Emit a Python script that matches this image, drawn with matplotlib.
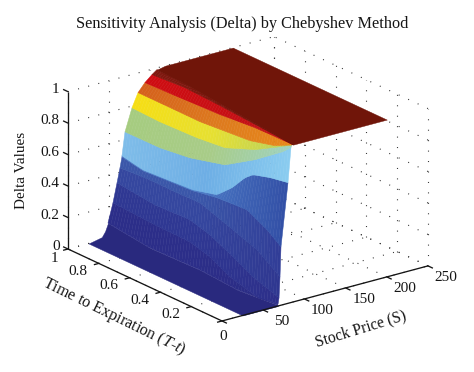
import numpy as np
import matplotlib
matplotlib.use("Agg")
import matplotlib.pyplot as plt
from matplotlib.colors import to_rgb
from mpl_toolkits.mplot3d import proj3d
from mpl_toolkits.mplot3d.art3d import Poly3DCollection

plt.rcParams['font.family'] = ['Liberation Serif', 'DejaVu Serif']
plt.rcParams['mathtext.fontset'] = 'custom'
plt.rcParams['mathtext.rm'] = 'Liberation Serif'
plt.rcParams['mathtext.it'] = 'Liberation Serif:italic'

TITLE = 'Sensitivity Analysis (Delta) by Chebyshev Method'
XLABEL = 'Stock Price (S)'
YLABEL = r'Time to Expiration ($\mathit{T}$-$\mathit{t}$)'
ZLABEL = 'Delta Values'
S_TICKS = [50, 100, 150, 200, 250]
T_TICKS = [0, 0.2, 0.4, 0.6, 0.8, 1]
Z_TICKS = [0, 0.2, 0.4, 0.6, 0.8, 1]

# Iso-colour boundaries of the surface: time, stock price, delta
a_T = [1, .753, .459, .235, 0]
a_S = [48.5, 53.4, 59.1, 63.3, 67.4]
a_Z = [.097, .045, .032, 0, .008]

b_T = [1, .745, .533, .412, .291, .121, 0]
b_S = [54.6, 57.9, 60.8, 62.4, 64.1, 66.3, 68]
b_Z = [.217, .189, .173, .131, .057, 0, .013]

c_T = [1, .765, .549, .426, .284, .160, 0]
c_S = [59.5, 61.7, 63.7, 65, 66.4, 67.5, 69.2]
c_Z = [.337, .301, .303, .261, .185, .112, .05]

d_T = [1, .8125, .656, .5, .294, .144, 0]
d_S = [63.1, 64.4, 65.5, 66.7, 68.3, 69.4, 70.4]
d_Z = [.427, .435, .429, .429, .349, .289, .182]

e_T = [1, .868, .553, .403, .214, .088, 0]
e_S = [65.5, 66.4, 68.2, 69.3, 70.4, 71.1, 71.6]
e_Z = [.494, .464, .479, .502, .510, .44, .371]

l_T = [1, .873, .572, .428, .337, .259, .211, .108, 0]
l_S = [65.5, 67.2, 71.7, 73.9, 75.1, 76.3, 77.1, 78.4, 80.1]
l_Z = [.501, .467, .471, .503, .587, .685, .725, .752, .767]

f_T = [1, .789, .608, .398, .217, .048, 0]
f_S = [69.2, 72.2, 74.8, 78, 80.6, 83, 83.7]
f_Z = [.648, .639, .654, .701, .813, .938, .985]

g_T = [1, .825, .594, .419, .231, .075, 0]
g_S = [77.7, 78.9, 80.7, 81.9, 83.3, 84.5, 85]
g_Z = [.789, .778, .780, .795, .867, .955, 1.0]

h_T = [1, .792, .597, .273, .110, 0]
h_S = [85, 85, 84.8, 85, 84.8, 85]
h_Z = [.875, .875, .875, .902, .945, 1.0]

i_T = [1, .764, .493, .257, 0]
i_S = [93.4, 91.9, 89.7, 88.1, 86.2]
i_Z = [.927, .941, .961, .988, 1.0]

j_T = [1, .766, .518, .270, 0]
j_S = [102, 98.3, 94.4, 90.5, 86.2]
j_Z = [.966, .995, 1.0, 1.0, 1.0]

k_T = [1, .757, .5, .257, 0]
k_S = [108, 102.7, 97, 91.7, 86.2]
k_Z = [.989, 1.0, 1.0, 1.0, 1.0]

S_MIN = 25
S_MAX = 200
S_FOOT_T0 = 68

BOUNDARIES = [(a_T, a_S, a_Z), (b_T, b_S, b_Z), (c_T, c_S, c_Z), (d_T, d_S, d_Z),
              (e_T, e_S, e_Z), (l_T, l_S, l_Z), (f_T, f_S, f_Z), (g_T, g_S, g_Z),
              (h_T, h_S, h_Z), (i_T, i_S, i_Z), (j_T, j_S, j_Z), (k_T, k_S, k_Z)]
# colour of each ribbon at T=1, T=0.5 and T=0
BAND_COLORS = [('#2c2e89', '#2c2e89', '#2b2c84'),
               ('#2f3893', '#2f3893', '#2d2f8a'),
               ('#35479f', '#35479f', '#2f3790'),
               ('#3b57a9', '#3b57a9', '#313d97'),
               ('#4b79c4', '#4a78c4', '#3350a6'),
               ('#7fbde9', '#6eaee5', '#8accf0'),
               ('#a6cc80', '#a8cc88', '#9fd2c0'),
               ('#f6de14', '#e6e032', '#b4cf64'),
               ('#d5601c', '#dd7a1e', '#e8891a'),
               ('#cf0c12', '#c80f14', '#bc1418'),
               ('#7f180f', '#7c170e', '#74160d')]
NAVY = '#29297e'
TOP = '#701509'

fig = plt.figure(figsize=(4.74, 3.72), dpi=100)
ax = fig.add_axes([0, 0, 1, 1], projection='3d', proj_type='ortho', computed_zorder=False)
ax.set_box_aspect((258, 255, 168))
ax.view_init(elev=20.7, azim=-127.1)
ax.set_axis_off()
ax.patch.set_alpha(0)
ax.set_xlim(0, 250)
ax.set_ylim(0, 1)
ax.set_zlim(0, 1)

W, H = 474, 372


def px(x, y, z):
    X, Y, _ = proj3d.proj_transform(x, y, z, ax.get_proj())
    return ax.transData.transform((X, Y))


# fit the box to the reference: corner (0,1,0) at (68,249), corner (250,0,0) at (428,266)
L = 372.0
ax.set_position([0, 0, L / W, L / H])
ax.apply_aspect()
span = px(250, 0, 0)[0] - px(0, 1, 0)[0]
L *= (428 - 68) / span
ax.set_position([0, 0, L / W, L / H])
ax.apply_aspect()
p = px(0, 1, 0)
dx, dy = 68 - p[0], (H - 249) - p[1]
ax.set_position([dx / W, dy / H, L / W, L / H])
ax.apply_aspect()

# dotted grid on the floor and back walls
grid = dict(color='#303030', lw=0.8, ls=(0, (0.9, 8.5)), zorder=1)
S_GRID = [0] + S_TICKS
for s in S_GRID:
    ax.plot([s, s], [0, 1], [0, 0], **grid)
    ax.plot([s, s], [1, 1], [0, 1], **grid)
for t in T_TICKS:
    ax.plot([0, 250], [t, t], [0, 0], **grid)
    ax.plot([250, 250], [t, t], [0, 1], **grid)
for z in Z_TICKS:
    ax.plot([0, 250], [1, 1], [z, z], **grid)
    ax.plot([250, 250], [0, 1], [z, z], **grid)

# surface
foot = [(S_MIN, 1, 0), (S_MIN, 0, 0), (S_FOOT_T0, 0, 0)]
foot += [(s, t, z) for t, s, z in zip(a_T[::-1], a_S[::-1], a_Z[::-1])]
foot += [(45, 1, .05), (41, 1, .018)]
ax.add_collection3d(Poly3DCollection([foot], facecolors=NAVY, edgecolors=NAVY, lw=.3,
                                     zorder=2), autolim=False)

tg = np.linspace(0, 1, 61)
for n, (lo, up) in enumerate(zip(BOUNDARIES[:-1], BOUNDARIES[1:])):
    sl = np.interp(tg, lo[0][::-1], lo[1][::-1])
    zl = np.interp(tg, lo[0][::-1], lo[2][::-1])
    su = np.interp(tg, up[0][::-1], up[1][::-1])
    zu = np.interp(tg, up[0][::-1], up[2][::-1])
    stops = np.array([to_rgb(c) for c in BAND_COLORS[n]])
    quads, cols = [], []
    for k in range(len(tg) - 1):
        quads.append([(sl[k], tg[k], zl[k]), (sl[k + 1], tg[k + 1], zl[k + 1]),
                      (su[k + 1], tg[k + 1], zu[k + 1]), (su[k], tg[k], zu[k])])
        tm = (tg[k] + tg[k + 1]) / 2
        cols.append(tuple(np.interp(tm, [0, .5, 1], stops[::-1, ch]) for ch in range(3)))
    ax.add_collection3d(Poly3DCollection(quads, facecolors=cols, edgecolors=cols, lw=.35,
                                         zorder=2 + n * .01), autolim=False)

plateau = [(s, t, z) for t, s, z in zip(k_T[::-1], k_S[::-1], k_Z[::-1])]
plateau += [(117.7, 1, 1), (S_MAX, 1, 1), (S_MAX, 0, 1)]
ax.add_collection3d(Poly3DCollection([plateau], facecolors=TOP, edgecolors=TOP, lw=.3,
                                     zorder=2.5), autolim=False)

# axis lines and ticks
axl = dict(color='#151515', lw=0.95, zorder=3, solid_capstyle='butt')
ax.plot([0, 250], [0, 0], [0, 0], **axl)
ax.plot([0, 0], [0, 1], [0, 0], **axl)
ax.plot([0, 0], [1, 1], [0, 1], **axl)
for s in [0] + S_TICKS:
    ax.plot([s, s], [0, -.032], [0, 0], **axl)
for t in T_TICKS:
    ax.plot([0, -6], [t, t], [0, 0], **axl)
for z in Z_TICKS:
    ax.plot([0, 0], [1, 1.032], [z, z], **axl)


def label3d(x, y, z, s, **kw):
    q = px(x, y, z)
    fig.text(q[0] / W, q[1] / H, s, fontsize=FS, va='center', color='#151515', **kw)


FS = 11
for s in S_TICKS:
    label3d(s, -.117, -.02, str(s), ha='center')
T_OFF_S = [1, -25, -25, -25, -25, -16]
T_OFF_Z = [-.10, -.017, -.017, -.017, -.017, -.04]
for t, ds, dz in zip(T_TICKS, T_OFF_S, T_OFF_Z):
    label3d(ds, t, dz, f'{t:g}', ha='center')
for z in Z_TICKS:
    label3d(-10, 1, z + .03, f'{z:g}', ha='right')

fig.text(242 / W, 1 - 24 / H, TITLE, fontsize=11.7, ha='center', va='center', color='#151515')
fig.text(22 / W, 1 - 170 / H, ZLABEL, fontsize=11, rotation=90, ha='center', va='center', color='#151515')
fig.text(114 / W, 1 - 317 / H, YLABEL, fontsize=11.6, rotation=-26, rotation_mode='anchor',
         ha='center', va='center', color='#151515')
fig.text(361 / W, 1 - 329 / H, XLABEL, fontsize=11.2, rotation=17, rotation_mode='anchor',
         ha='center', va='center', color='#151515')

fig.savefig('out.png', dpi=100)
